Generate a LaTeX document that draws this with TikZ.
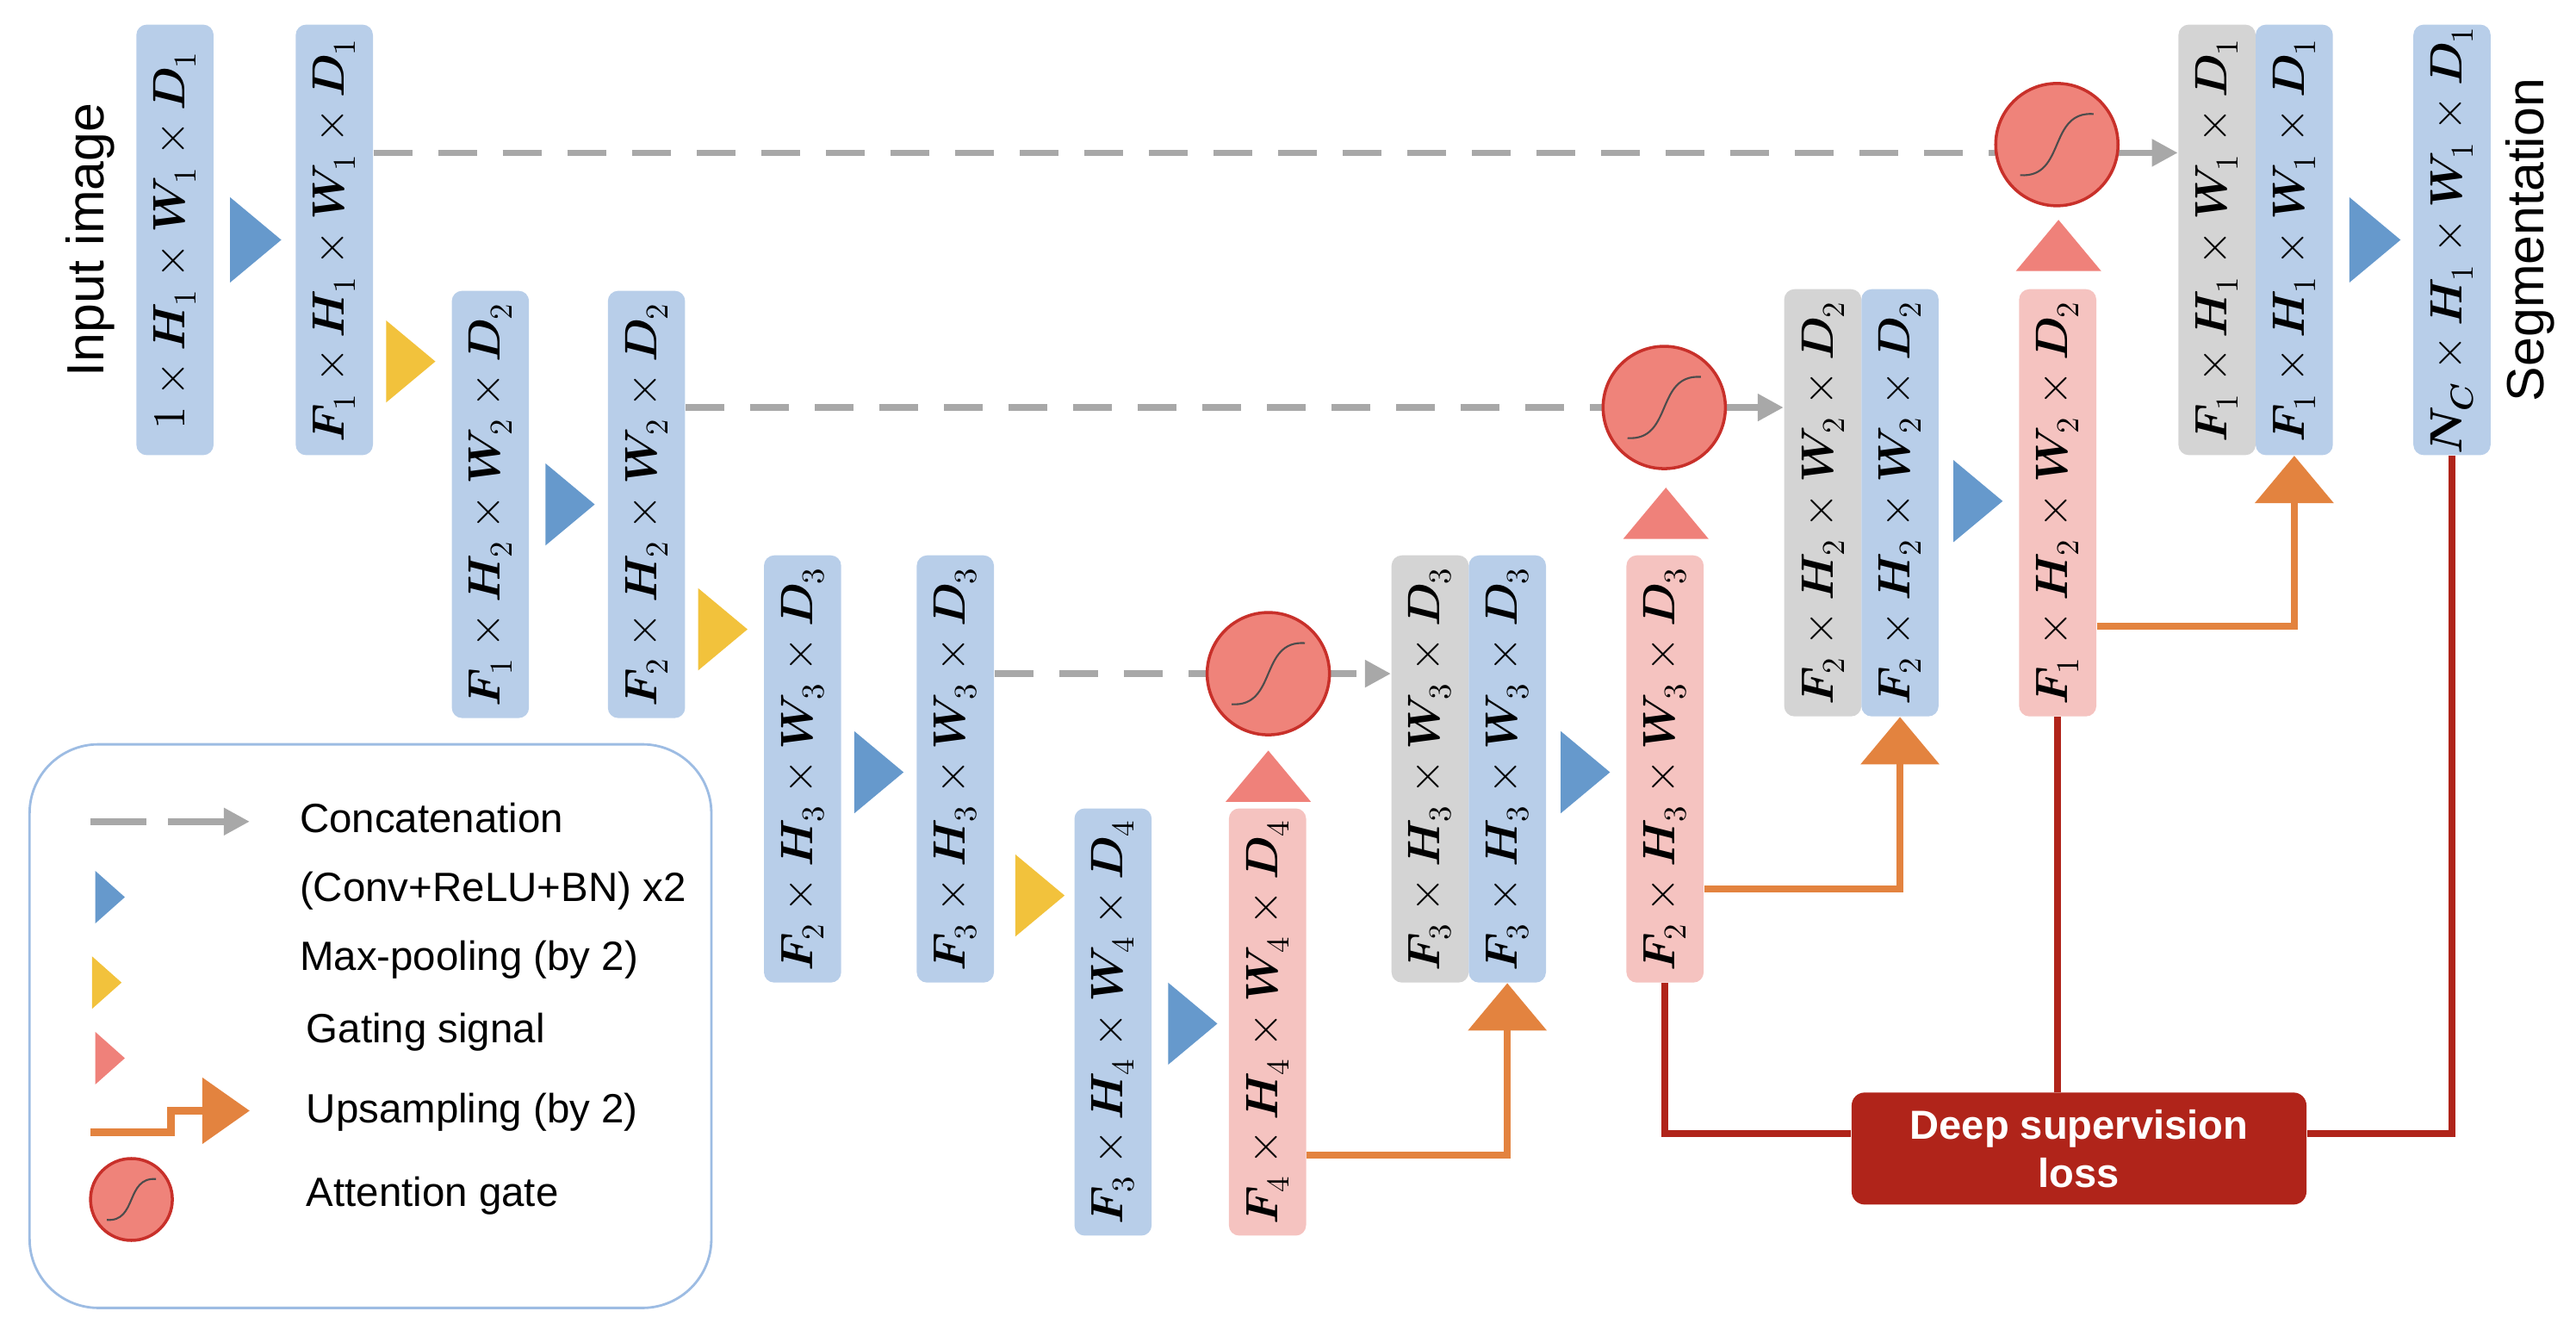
\documentclass[tikz,border=0pt]{standalone}
\usepackage{fontspec}
\setmainfont{Liberation Sans}
\usepackage{unicode-math}
\setmathfont{Latin Modern Math}
\usetikzlibrary{fit,arrows.meta}
\definecolor{bbox}{HTML}{B8CEE9}
\definecolor{btri}{HTML}{6699CC}
\definecolor{ytri}{HTML}{F2C23C}
\definecolor{pbox}{HTML}{F5C3C0}
\definecolor{ptri}{HTML}{EF817A}
\definecolor{gbox}{HTML}{D4D4D4}
\definecolor{cgate}{HTML}{EF837A}
\definecolor{cgateb}{HTML}{C8302A}
\definecolor{orng}{HTML}{E3833F}
\definecolor{dred}{HTML}{B0241A}
\definecolor{dgray}{HTML}{A8A8A8}
\definecolor{lgb}{HTML}{9DBCE3}
\newcommand\blk[7]{%
  \node[blkst, fill=#6, fit={(#2,#3)(#4,#5)}] (#1) {};
  \node[rotate=90, font=\fontsize{15}{18}\selectfont] at (#1.center) {$\symbfit{#7}$};}
\newcommand\rtri[4]{\path[fill=#4] (#1,#2) -- (#1,#2+#3) -- (#1+0.6*#3,#2+0.5*#3) -- cycle;}
\newcommand\utri[4]{\path[fill=#4] (#1,#2) -- (#1+#3,#2) -- (#1+0.5*#3,#2-0.6*#3) -- cycle;}
\newcommand\gatesym[3]{%
  \node[gatest, minimum size=#3] (#1) at (#2) {};
  \draw[black!70, line width=0.6pt] ([shift={(-0.6*#3/2,-0.5*#3/2)}]#1.center) .. controls ([shift={(0.15*#3/2,-0.55*#3/2)}]#1.center) and ([shift={(-0.15*#3/2,0.55*#3/2)}]#1.center) .. ([shift={(0.6*#3/2,0.5*#3/2)}]#1.center);}
\begin{document}
\begin{tikzpicture}[x=0.019075cm,y=-0.019075cm,
  blkst/.style={rounded corners=0.12cm, inner sep=0pt, draw=none},
  gatest/.style={circle, fill=cgate, draw=cgateb, line width=1pt, inner sep=0pt},
  skip/.style={dgray, line width=2.2pt, dash pattern=on 0.45cm off 0.3cm, -{Triangle[length=0.3cm,width=0.3cm]}},
  up/.style={orng, line width=2.2pt, -{Triangle[length=0.55cm,width=0.9cm]}},
  sup/.style={dred, line width=2.2pt},
  lbl/.style={font=\fontsize{13.5}{16}\selectfont, anchor=west}]
\useasboundingbox (0,0) rectangle (1568,812.6);
% blocks
\blk{c1}{83}{15}{130}{277}{bbox}{1\times H_1\times W_1\times D_1}
\blk{c2}{180}{15}{227}{277}{bbox}{F_1\times H_1\times W_1\times D_1}
\blk{c3}{275}{177}{322}{437}{bbox}{F_1\times H_2\times W_2\times D_2}
\blk{c4}{370}{177}{417}{437}{bbox}{F_2\times H_2\times W_2\times D_2}
\blk{c5}{465}{338}{512}{598}{bbox}{F_2\times H_3\times W_3\times D_3}
\blk{c6}{558}{338}{605}{598}{bbox}{F_3\times H_3\times W_3\times D_3}
\blk{c7}{654}{492}{701}{752}{bbox}{F_3\times H_4\times W_4\times D_4}
\blk{c8}{748}{492}{795}{752}{pbox}{F_4\times H_4\times W_4\times D_4}
\blk{c9g}{847}{338}{894}{598}{gbox}{F_3\times H_3\times W_3\times D_3}
\blk{c9}{894}{338}{941}{598}{bbox}{F_3\times H_3\times W_3\times D_3}
\blk{c10}{990}{338}{1037}{598}{pbox}{F_2\times H_3\times W_3\times D_3}
\blk{c11g}{1086}{176}{1133}{436}{gbox}{F_2\times H_2\times W_2\times D_2}
\blk{c11}{1133}{176}{1180}{436}{bbox}{F_2\times H_2\times W_2\times D_2}
\blk{c12}{1229}{176}{1276}{436}{pbox}{F_1\times H_2\times W_2\times D_2}
\blk{c13g}{1326}{15}{1373}{277}{gbox}{F_1\times H_1\times W_1\times D_1}
\blk{c13}{1373}{15}{1420}{277}{bbox}{F_1\times H_1\times W_1\times D_1}
\blk{c14}{1469}{15}{1516}{277}{bbox}{N_C\times H_1\times W_1\times D_1}
\node[rotate=90, font=\fontsize{17.3}{20}\selectfont] (inp) at (55,146) {Input image};
\node[rotate=90, font=\fontsize{17.3}{20}\selectfont] (seg) at (1540,146) {Segmentation};
% skip connections
\draw[skip] (c2.east |- 0,93) -- (c13g.west |- 0,93);
\draw[skip] (c4.east |- 0,248) -- (c11g.west |- 0,248);
\draw[skip] (c6.east |- 0,410) -- (c9g.west |- 0,410);
\gatesym{g1}{1252,88}{1.42cm}
\gatesym{g2}{1013,248}{1.42cm}
\gatesym{g3}{772,410}{1.42cm}
% conv triangles
\rtri{140}{120}{52}{btri}
\rtri{332}{282}{50}{btri}
\rtri{520}{445}{50}{btri}
\rtri{711}{598}{50}{btri}
\rtri{950}{445}{50}{btri}
\rtri{1189}{280}{50}{btri}
\rtri{1430}{120}{52}{btri}
% pooling
\rtri{235}{195}{50}{ytri}
\rtri{425}{358}{50}{ytri}
\rtri{618}{520}{50}{ytri}
% gating
\utri{746}{488}{52}{ptri}
\utri{988}{328}{52}{ptri}
\utri{1227}{165}{52}{ptri}
% upsampling
\draw[up] (c8.east |- 0,703) -| (c9.south);
\draw[up] (c10.east |- 0,541) -| (c11.south);
\draw[up] (c12.east |- 0,381) -| (c13.south);
% deep supervision
\node[fill=dred, rounded corners=0.15cm, minimum width=5.28cm, minimum height=1.3cm, align=center, text=white, font=\bfseries\fontsize{13.4}{16}\selectfont] (ds) at (1265.5,699) {Deep supervision\\loss};
\draw[sup] (c10.south) |- (ds.west |- 0,690);
\draw[sup] (c12.south) -- (c12.south |- ds.north);
\draw[sup] (c14.south) |- (ds.east |- 0,690);
% legend
\node[draw=lgb, line width=0.8pt, rounded corners=0.8cm, fit={(18,453)(433,796)}, inner sep=0pt] (leg) {};
\coordinate (l1a) at (55,500); \coordinate (l1b) at (152,500);
\draw[skip, dash pattern=on 0.65cm off 0.25cm] (l1a) -- (l1b);
\node[lbl] (t1) at (176,498) {Concatenation};
\path[fill=btri] (58,530) -- (58,562) -- (76,546) -- cycle;
\node[lbl] (t2) at (176,542) {(Conv+ReLU+BN) x2};
\path[fill=ytri] (56,582) -- (56,614) -- (74,598) -- cycle;
\node[lbl] (t3) at (176,584) {Max-pooling (by 2)};
\path[fill=ptri] (58,628) -- (58,660) -- (76,644) -- cycle;
\node[lbl] (t4) at (180,628) {Gating signal};
\coordinate (u0) at (55,689); \coordinate (u1) at (104,689); \coordinate (u2) at (104,676);
\coordinate (u3) at (152,676);
\draw[orng, line width=2.5pt, -{Triangle[length=0.55cm,width=0.75cm]}] (u0) -- (u1) -- (u2) -- (u3);
\node[lbl] (t5) at (180,677) {Upsampling (by 2)};
\gatesym{lg}{80,730}{0.95cm}
\node[lbl] (t6) at (180,728) {Attention gate};
\end{tikzpicture}
\end{document}
